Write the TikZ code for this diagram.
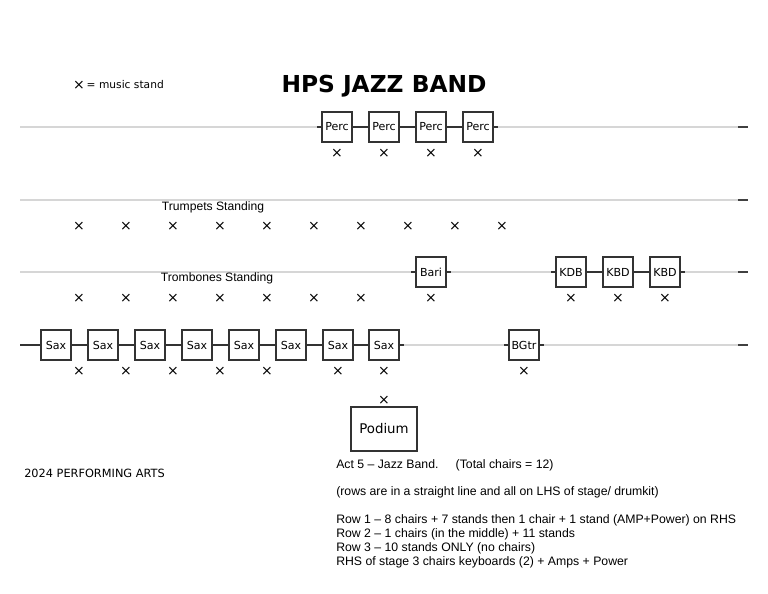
\documentclass[tikz,border=0pt]{standalone}
\usepackage{fontspec}
\setmainfont{DejaVu Sans}
\newfontfamily\arial[Ligatures=TeX]{Liberation Sans}
\usepackage{xcolor}
\usepackage{tikz}
\usetikzlibrary{positioning}

\begin{document}
\begin{tikzpicture}[x=0.75pt, y=-0.75pt,
  chair/.style={rectangle, draw=black!80, line width=1.1pt, fill=white,
             minimum size=22.5pt, inner sep=0pt, font=\fontsize{8.3}{9}\selectfont},
  podbox/.style={rectangle, draw=black!80, line width=1.1pt, fill=white,
             minimum width=49.5pt, minimum height=33pt, inner sep=0pt,
             font=\fontsize{10}{12}\selectfont},
  stand/.style={inner sep=0pt, font=\fontsize{10.5}{10}\selectfont},
  rowline/.style={draw=black!16, line width=1.6pt},
  rowend/.style={draw=black!75, line width=1.4pt},
  conn/.style={draw=black!80, line width=1.6pt},
  note/.style={font=\arial\fontsize{9.2}{10.5}\selectfont, anchor=west, inner sep=0pt},
]
\useasboundingbox (0,0) rectangle (768,593);

% ---- Title and legend ----
\node[font=\bfseries\fontsize{17.5}{20}\selectfont] (title) at (384,86) {HPS JAZZ BAND};
\node[stand] (key) at (79,85) {×};
\node[font=\fontsize{8}{10}\selectfont, right=1pt of key, inner sep=0pt] (keytxt) {= music stand};

% ---- Row lines ----
\coordinate (r1l) at (20,127);  \coordinate (r1r) at (738,127);  \coordinate (r1e) at (748,127);
\coordinate (r2l) at (20,200);  \coordinate (r2r) at (738,200);  \coordinate (r2e) at (748,200);
\coordinate (r3l) at (20,272);  \coordinate (r3r) at (738,272);  \coordinate (r3e) at (748,272);
\coordinate (r4l) at (20,345);  \coordinate (r4r) at (738,345);  \coordinate (r4e) at (748,345);
\draw[rowline] (r1l) -- (r1r);
\draw[rowline] (r2l) -- (r2r);
\draw[rowline] (r3l) -- (r3r);
\draw[rowline] (r4l) -- (r4r);
\draw[rowend] (r1r) -- (r1e);
\draw[rowend] (r2r) -- (r2e);
\draw[rowend] (r3r) -- (r3e);
\draw[rowend] (r4r) -- (r4e);

% ---- Percussion ----
\node[chair] (perc1) at (337,127) {Perc};
\node[chair] (perc2) at (384,127) {Perc};
\node[chair] (perc3) at (431,127) {Perc};
\node[chair] (perc4) at (478,127) {Perc};
\draw[conn] (perc1.west) -- +(-4,0);
\draw[conn] (perc1) -- (perc2);
\draw[conn] (perc2) -- (perc3);
\draw[conn] (perc3) -- (perc4);
\draw[conn] (perc4.east) -- +(4,0);
\node[stand] (sp1) at (337,153) {×};
\node[stand] (sp2) at (384,153) {×};
\node[stand] (sp3) at (431,153) {×};
\node[stand] (sp4) at (478,153) {×};

% ---- Trumpets ----
\node[font=\arial\fontsize{9.1}{10}\selectfont] (trp) at (213,207) {Trumpets Standing};
\node[stand] (st1)  at (79,226)  {×};
\node[stand] (st2)  at (126,226) {×};
\node[stand] (st3)  at (173,226) {×};
\node[stand] (st4)  at (220,226) {×};
\node[stand] (st5)  at (267,226) {×};
\node[stand] (st6)  at (314,226) {×};
\node[stand] (st7)  at (361,226) {×};
\node[stand] (st8)  at (408,226) {×};
\node[stand] (st9)  at (455,226) {×};
\node[stand] (st10) at (502,226) {×};

% ---- Trombones, bari, keys ----
\node[font=\arial\fontsize{9.1}{10}\selectfont] (trb) at (217,278) {Trombones Standing};
\node[chair] (bari) at (431,272) {Bari};
\draw[conn] (bari.west) -- +(-4,0);
\draw[conn] (bari.east) -- +(4,0);
\node[chair] (kdb)  at (571,272) {KDB};
\node[chair] (kbd1) at (618,272) {KBD};
\node[chair] (kbd2) at (665,272) {KBD};
\draw[conn] (kdb.west) -- +(-4,0);
\draw[conn] (kdb) -- (kbd1);
\draw[conn] (kbd1) -- (kbd2);
\draw[conn] (kbd2.east) -- +(4,0);
\node[stand] (sb1) at (79,298)  {×};
\node[stand] (sb2) at (126,298) {×};
\node[stand] (sb3) at (173,298) {×};
\node[stand] (sb4) at (220,298) {×};
\node[stand] (sb5) at (267,298) {×};
\node[stand] (sb6) at (314,298) {×};
\node[stand] (sb7) at (361,298) {×};
\node[stand] (sbari) at (431,298) {×};
\node[stand] (sk1) at (571,298) {×};
\node[stand] (sk2) at (618,298) {×};
\node[stand] (sk3) at (665,298) {×};

% ---- Saxes and guitar ----
\node[chair] (sax1) at (56,345)  {Sax};
\node[chair] (sax2) at (103,345) {Sax};
\node[chair] (sax3) at (150,345) {Sax};
\node[chair] (sax4) at (197,345) {Sax};
\node[chair] (sax5) at (244,345) {Sax};
\node[chair] (sax6) at (291,345) {Sax};
\node[chair] (sax7) at (338,345) {Sax};
\node[chair] (sax8) at (384,345) {Sax};
\draw[conn] (r4l) -- (sax1);
\draw[conn] (sax1) -- (sax2);
\draw[conn] (sax2) -- (sax3);
\draw[conn] (sax3) -- (sax4);
\draw[conn] (sax4) -- (sax5);
\draw[conn] (sax5) -- (sax6);
\draw[conn] (sax6) -- (sax7);
\draw[conn] (sax7) -- (sax8);
\draw[conn] (sax8.east) -- +(4,0);
\node[chair] (bgtr) at (524,345) {BGtr};
\draw[conn] (bgtr.west) -- +(-4,0);
\draw[conn] (bgtr.east) -- +(4,0);
\node[stand] (ss1) at (79,371)  {×};
\node[stand] (ss2) at (126,371) {×};
\node[stand] (ss3) at (173,371) {×};
\node[stand] (ss4) at (220,371) {×};
\node[stand] (ss5) at (267,371) {×};
\node[stand] (ss6) at (338,371) {×};
\node[stand] (ss7) at (384,371) {×};
\node[stand] (sg)  at (524,371) {×};

% ---- Podium ----
\node[stand] (spod) at (384,400) {×};
\node[podbox] (podium) at (384,429) {Podium};

% ---- Notes ----
\node[font=\fontsize{8.5}{10}\selectfont, anchor=west, inner sep=0pt] (pa) at (24,473) {2024 PERFORMING ARTS};
\node[note] (act) at (336,465) {Act 5 -- Jazz Band.\hspace{1.4em}(Total chairs = 12)};
\node[note] (rows) at (336,492) {(rows are in a straight line and all on LHS of stage/ drumkit)};
\node[note, align=left, anchor=north west] (rowlist) at (336,514) {%
  Row 1 -- 8 chairs + 7 stands then 1 chair + 1 stand (AMP+Power) on RHS\\
  Row 2 -- 1 chairs (in the middle) + 11 stands\\
  Row 3 -- 10 stands ONLY (no chairs)\\
  RHS of stage 3 chairs keyboards (2) + Amps + Power};

\end{tikzpicture}
\end{document}
